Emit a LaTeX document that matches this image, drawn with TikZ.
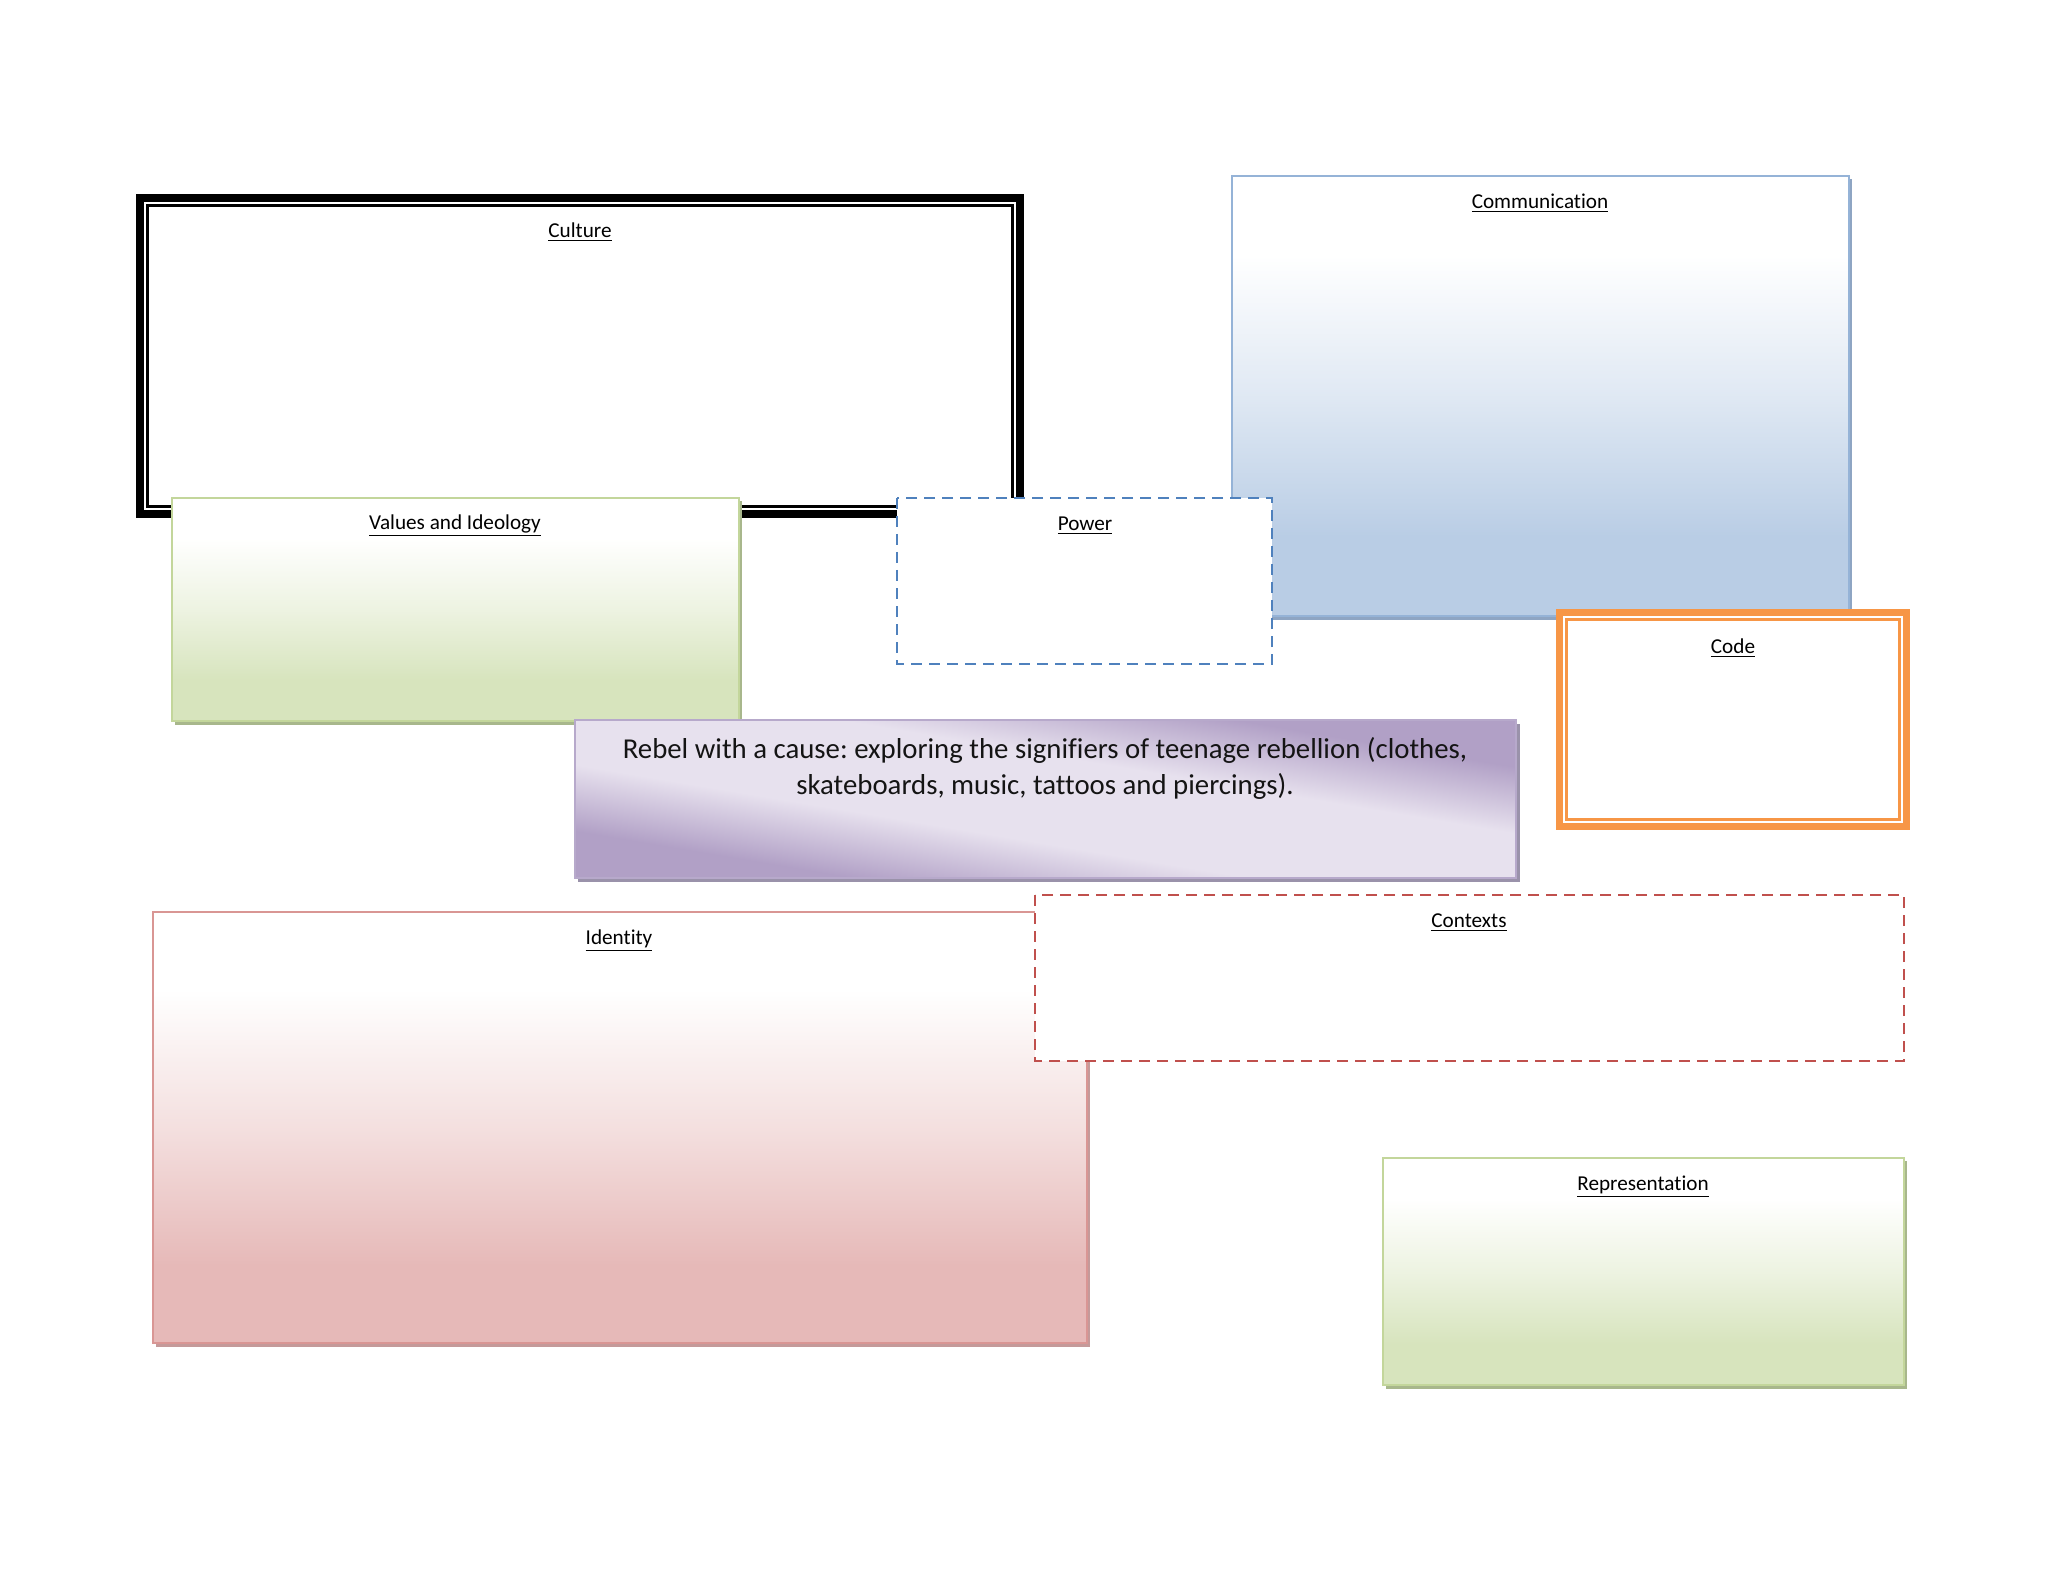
\documentclass[tikz,border=0pt]{standalone}
\usepackage{fontspec}
\setmainfont{Carlito}[Ligatures=NoCommon]
\frenchspacing
\definecolor{commB}{HTML}{B9CDE5}
\definecolor{commE}{HTML}{95B3D7}
\definecolor{commS}{HTML}{8EA5C3}
\definecolor{valB}{HTML}{D7E4BD}
\definecolor{valE}{HTML}{C3D69B}
\definecolor{valS}{HTML}{A8B78C}
\definecolor{idB}{HTML}{E6B9B8}
\definecolor{idE}{HTML}{D99694}
\definecolor{idS}{HTML}{C49A9A}
\definecolor{powE}{HTML}{4F81BD}
\definecolor{conE}{HTML}{C0504D}
\definecolor{codeE}{HTML}{F79646}
\definecolor{purD}{HTML}{B1A0C6}
\definecolor{purL}{HTML}{E7E1EE}
\definecolor{purE}{HTML}{B7A9CB}
\definecolor{purS}{HTML}{9A92AA}
\colorlet{gradbot}{valB}
\pgfdeclareverticalshading[gradbot]{wordgrad}{100bp}{color(0bp)=(gradbot); color(25bp)=(gradbot); color(34bp)=(gradbot); color(50bp)=(gradbot!45!white); color(66bp)=(white); color(100bp)=(white)}
\pgfdeclarehorizontalshading{purgrad}{100bp}{color(0bp)=(purD); color(25bp)=(purD); color(40bp)=(purL); color(60bp)=(purL); color(75bp)=(purD); color(100bp)=(purD)}
\tikzset{
  lbl/.style={font=\fontsize{10.6}{12}\selectfont, inner sep=0pt},
  gradbox/.style={shading=wordgrad, draw=#1, line width=1pt},
  dashbox/.style={fill=white, draw=#1, line width=1.1pt, dash pattern=on 5.5pt off 3.5pt}
}
\begin{document}
\begin{tikzpicture}[x=0.5pt,y=-0.5pt]
\useasboundingbox[fill=white] (0,0) rectangle (2048,1582);

% Culture
\fill[white] (136,194) rectangle (1024,518);
\draw[line width=3.9pt] (140,198) rectangle (1020,514);
\draw[line width=1.15pt] (147.5,205.5) rectangle (1012.5,506.5);
\node[lbl] (culture) at (580,232) {\underline{Culture}};

% Communication
\fill[commS] (1235,179) rectangle (1852,620);
\colorlet{gradbot}{commB}
\shade[gradbox=commE] (1232,176) rectangle (1849,616);
\node[lbl] (comm) at (1540,203.5) {\underline{Communication}};

% Values and Ideology
\fill[valS] (175,501) rectangle (742,725);
\colorlet{gradbot}{valB}
\shade[gradbox=valE] (172,498) rectangle (739,721);
\node[lbl] (values) at (455,525.5) {\underline{Values and Ideology}};

% Power
\path[dashbox=powE] (897,498) rectangle (1272,664);
\node[lbl] (power) at (1085,525.5) {\underline{Power}};

% Code
\fill[white] (1556,609) rectangle (1910,830);
\draw[codeE, line width=3.6pt] (1559.5,612.5) rectangle (1906.5,826.5);
\draw[codeE, line width=1.3pt] (1566.5,619.5) rectangle (1899.5,819.5);
\node[lbl] (code) at (1733,648.5) {\underline{Code}};

% Central
\fill[purS] (578,724) rectangle (1520,882);
\begin{scope}[transform canvas={shift={(1045.5,799)}, xscale=5.956}]
  \shade[shading=purgrad, shading angle=45] (-79,-79) rectangle (79,79);
\end{scope}
\draw[purE, line width=1pt] (575,720) rectangle (1516,878);
\node[align=center, font=\fontsize{14.4}{17.6}\selectfont, text=black!92, inner sep=0pt] (title) at (1045,768.5)
  {Rebel with a cause: exploring the signifiers of teenage rebellion (clothes,\\skateboards, music, tattoos and piercings).};

% Identity
\fill[idS] (156,915) rectangle (1090,1347);
\colorlet{gradbot}{idB}
\shade[gradbox=idE] (153,912) rectangle (1087,1343);
\node[lbl] (identity) at (619,940.5) {\underline{Identity}};

% Contexts
\path[dashbox=conE] (1035,895) rectangle (1904,1061);
\node[lbl] (contexts) at (1469,922.5) {\underline{Contexts}};

% Representation
\fill[valS] (1386,1161) rectangle (1907,1389);
\colorlet{gradbot}{valB}
\shade[gradbox=valE] (1383,1158) rectangle (1904,1385);
\node[lbl] (repr) at (1643,1186.5) {\underline{Representation}};
\end{tikzpicture}
\end{document}
